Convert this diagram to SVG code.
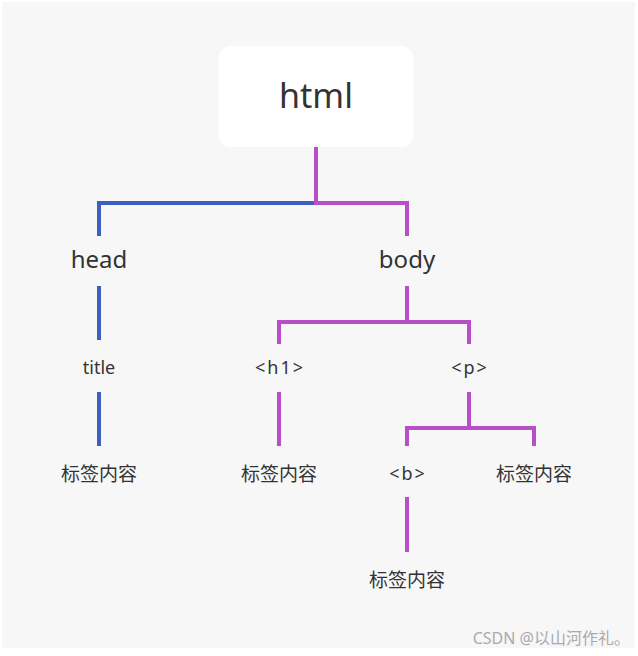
<svg xmlns="http://www.w3.org/2000/svg" width="638" height="656" viewBox="0 0 638 656">
<style>
text{font-family:"Noto Sans","Noto Sans CJK SC",sans-serif;fill:#333;text-anchor:middle}
.b{stroke:#3d5fc4;stroke-width:4;fill:none}
.p{stroke:#b94ec9;stroke-width:4;fill:none}
.n{font-size:24px}
.s{font-size:18px}
.c{font-size:19px}
.t{letter-spacing:2px}
</style>
<rect x="0" y="0" width="638" height="656" fill="#fff"/>
<rect x="2" y="2" width="633" height="646" fill="#f7f7f8"/>
<g id="connectors">
<path class="b" d="M316 203H99V236M99 286V340M99 392V446"/>
<path class="p" d="M316 147V203H407V236M407 286V322H279V344M407 322H469V344M279 392V446M469 392V428H407V446M469 428H534V446M407 497V552"/>
</g>
<g id="html"><rect x="219" y="46" width="194" height="101" rx="12" fill="#fff"/><text x="316" y="108" font-size="34">html</text></g>
<g id="head"><text class="n" x="99" y="268">head</text></g>
<g id="body"><text class="n" x="407" y="268">body</text></g>
<g id="title"><text class="s" x="99" y="374">title</text></g>
<g id="h1"><text class="s t" x="280" y="374">&lt;h1&gt;</text></g>
<g id="p"><text class="s t" x="470" y="374">&lt;p&gt;</text></g>
<g id="c1"><text class="c" x="99" y="481">标签内容</text></g>
<g id="c2"><text class="c" x="279" y="481">标签内容</text></g>
<g id="b"><text class="s t" x="408" y="480">&lt;b&gt;</text></g>
<g id="c3"><text class="c" x="534" y="481">标签内容</text></g>
<g id="c4"><text class="c" x="407" y="587">标签内容</text></g>
<text x="630" y="644" font-size="16" style="text-anchor:end;fill:#aaa">CSDN @以山河作礼。</text>
</svg>
